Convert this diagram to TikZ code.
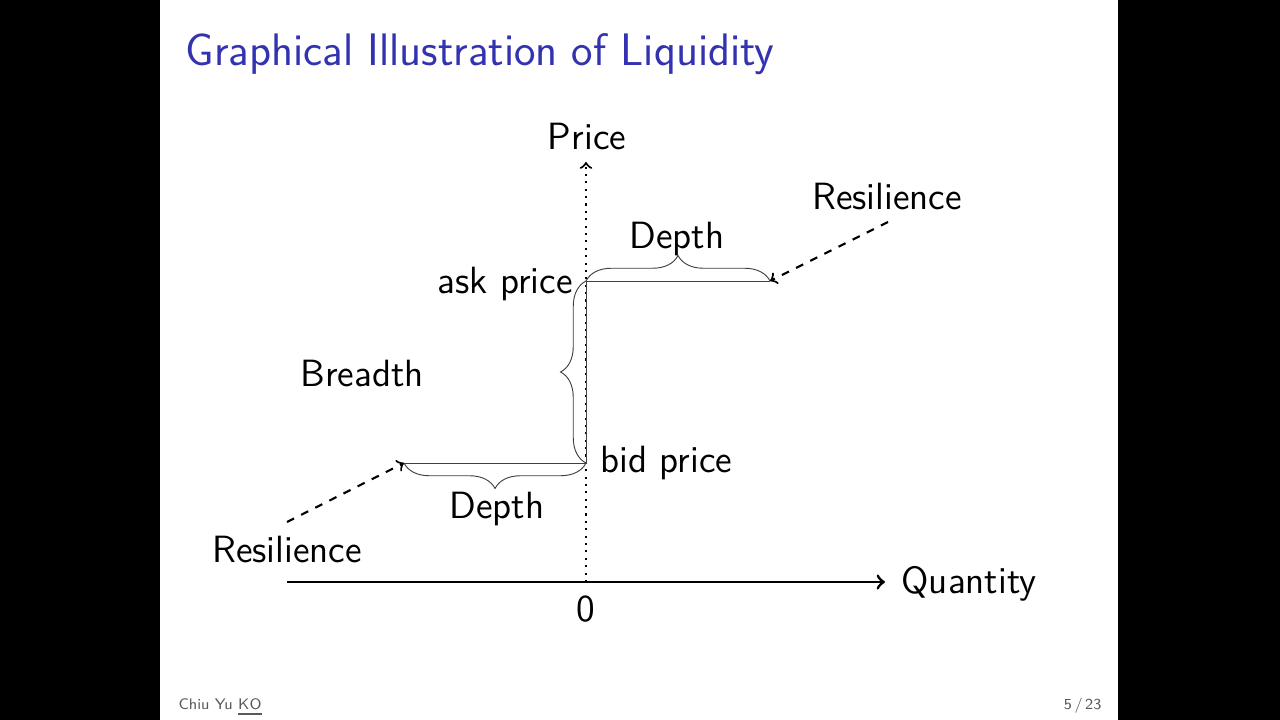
\documentclass[tikz,border=0pt]{standalone}
\usetikzlibrary{decorations.pathreplacing}
\definecolor{beamerblue}{rgb}{0.2,0.2,0.7}
\definecolor{footgray}{gray}{0.35}
\tikzset{
  lbl/.style={font=\fontsize{14.4}{17}\selectfont\sffamily, inner sep=0pt},
  titlefont/.style={font=\fontsize{17.28}{20}\selectfont\sffamily, text=beamerblue, inner sep=0pt},
  footfont/.style={font=\fontsize{5.8}{7}\selectfont\sffamily, text=footgray, inner sep=0pt},
  bracedeco/.style={decorate, decoration={brace, amplitude=3.4mm}, line width=0.35pt, draw=black!75},
  levelline/.style={line width=0.35pt, draw=black!75},
  qaxis/.style={line width=1.1pt, ->},
  paxis/.style={dotted, line width=0.8pt, ->},
  resarrow/.style={dashed, ->, line width=0.8pt},
}
\begin{document}
\begin{tikzpicture}[x=0.13333mm,y=0.13333mm]
\fill[black] (0,0) rectangle (1280,720);
\fill[white] (160,0) rectangle (1118,720);
\useasboundingbox (0,0) rectangle (1280,720);

% title and footer
\node[titlefont, anchor=base west] (title) at (185,654) {Graphical Illustration of Liquidity};
\node[footfont, anchor=base west] (author) at (178,10) {Chiu Yu \underline{KO}};
\node[footfont, anchor=base east] (page) at (1102,10) {5\,/\,23};

% key points
\coordinate (origin) at (586,138);
\coordinate (qstart) at (287,138);
\coordinate (qend) at (885,138);
\coordinate (ptop) at (586,558);
\coordinate (ask) at (586,439);
\coordinate (askend) at (770,439);
\coordinate (bid) at (586,257);
\coordinate (bidend) at (404,257);
\coordinate (r1) at (888,498);
\coordinate (r2) at (287,198);

% axes
\draw[qaxis] (qstart) -- (qend);
\draw[paxis] (origin) -- (ptop);
\node[lbl, anchor=base] (price) at (587,570) {Price};
\node[lbl, anchor=base west] (quantity) at (901,126) {Quantity};
\node[lbl, anchor=base] (zero) at (586,98) {0};

% order book shape
\draw[levelline] (bidend) -- (bid) -- (ask) -- (askend);

% braces
\draw[bracedeco] (ask) -- (askend);
\draw[bracedeco] (bid) -- (bidend);
\draw[bracedeco] (bid) -- (ask);

% labels
\node[lbl, anchor=base] (depthtop) at (677,471) {Depth};
\node[lbl, anchor=base] (depthbot) at (497,201) {Depth};
\node[lbl, anchor=base] (breadth) at (362,333) {Breadth};
\node[lbl, anchor=base east] (asklbl) at (573,426) {ask price};
\node[lbl, anchor=base west] (bidlbl) at (600,247) {bid price};
\node[lbl, anchor=base] (res1) at (887,510) {Resilience};
\node[lbl, anchor=base] (res2) at (287,157) {Resilience};

% resilience arrows
\draw[resarrow] (r1) -- (askend);
\draw[resarrow] (r2) -- (bidend);
\end{tikzpicture}
\end{document}
